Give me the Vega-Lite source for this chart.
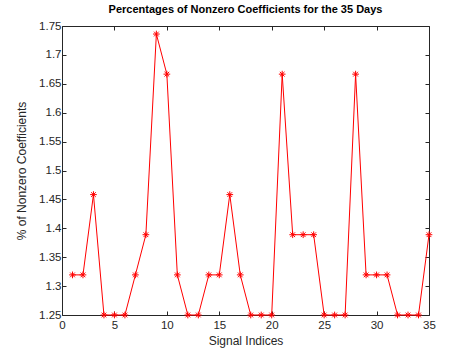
{
  "$schema": "https://vega.github.io/schema/vega-lite/v6.json",
  "width": 367,
  "height": 289,
  "autosize": "none",
  "padding": {"left": 62, "top": 26, "right": 45, "bottom": 40},
  "background": "white",
  "title": {"text": "Percentages of Nonzero Coefficients for the 35 Days", "font": "Liberation Sans", "fontSize": 11, "fontWeight": "bold", "color": "#000000", "offset": 5, "anchor": "middle"},
  "config": {
    "view": {"stroke": "#262626", "strokeWidth": 1},
    "axis": {"labelFont": "Liberation Sans", "titleFont": "Liberation Sans", "labelFontSize": 11.5, "titleFontSize": 12, "labelColor": "#262626", "titleColor": "#262626", "titleFontWeight": "normal", "domain": false, "grid": false, "tickColor": "#262626", "tickSize": -4, "labelPadding": 5}
  },
  "data": {"values": [
    {"idx": 1, "pct": 1.3194}, {"idx": 2, "pct": 1.3194}, {"idx": 3, "pct": 1.4583}, {"idx": 4, "pct": 1.25},
    {"idx": 5, "pct": 1.25}, {"idx": 6, "pct": 1.25}, {"idx": 7, "pct": 1.3194}, {"idx": 8, "pct": 1.3889},
    {"idx": 9, "pct": 1.7361}, {"idx": 10, "pct": 1.6667}, {"idx": 11, "pct": 1.3194}, {"idx": 12, "pct": 1.25},
    {"idx": 13, "pct": 1.25}, {"idx": 14, "pct": 1.3194}, {"idx": 15, "pct": 1.3194}, {"idx": 16, "pct": 1.4583},
    {"idx": 17, "pct": 1.3194}, {"idx": 18, "pct": 1.25}, {"idx": 19, "pct": 1.25}, {"idx": 20, "pct": 1.25},
    {"idx": 21, "pct": 1.6667}, {"idx": 22, "pct": 1.3889}, {"idx": 23, "pct": 1.3889}, {"idx": 24, "pct": 1.3889},
    {"idx": 25, "pct": 1.25}, {"idx": 26, "pct": 1.25}, {"idx": 27, "pct": 1.25}, {"idx": 28, "pct": 1.6667},
    {"idx": 29, "pct": 1.3194}, {"idx": 30, "pct": 1.3194}, {"idx": 31, "pct": 1.3194}, {"idx": 32, "pct": 1.25},
    {"idx": 33, "pct": 1.25}, {"idx": 34, "pct": 1.25}, {"idx": 35, "pct": 1.3889}
  ]},
  "layer": [
    {
      "mark": {"type": "line", "color": "#ff0000", "strokeWidth": 1, "clip": false},
      "encoding": {
        "x": {"field": "idx", "type": "quantitative", "scale": {"domain": [0, 35], "nice": false, "zero": false}, "axis": {"title": "Signal Indices", "values": [0, 5, 10, 15, 20, 25, 30, 35], "labelPadding": 8, "titlePadding": 5, "labelFlush": false}},
        "y": {"field": "pct", "type": "quantitative", "scale": {"domain": [1.25, 1.75], "nice": false, "zero": false}, "axis": {"title": "% of Nonzero Coefficients", "values": [1.25, 1.3, 1.35, 1.4, 1.45, 1.5, 1.55, 1.6, 1.65, 1.7, 1.75], "format": ".2~f", "titlePadding": 10, "labelFlush": false}}
      }
    },
    {
      "mark": {"type": "point", "shape": "M -1 0 L 1 0 M 0 -1 L 0 1 M -0.7 -0.7 L 0.7 0.7 M -0.7 0.7 L 0.7 -0.7", "size": 45, "stroke": "#ff0000", "strokeWidth": 1, "filled": false, "opacity": 1, "clip": false},
      "encoding": {
        "x": {"field": "idx", "type": "quantitative", "scale": {"domain": [0, 35], "nice": false, "zero": false}, "axis": {"orient": "top", "labels": false, "title": null, "values": [0, 5, 10, 15, 20, 25, 30, 35]}},
        "y": {"field": "pct", "type": "quantitative", "scale": {"domain": [1.25, 1.75], "nice": false, "zero": false}, "axis": {"orient": "right", "labels": false, "title": null, "values": [1.25, 1.3, 1.35, 1.4, 1.45, 1.5, 1.55, 1.6, 1.65, 1.7, 1.75]}}
      }
    }
  ],
  "resolve": {"axis": {"x": "independent", "y": "independent"}}
}
